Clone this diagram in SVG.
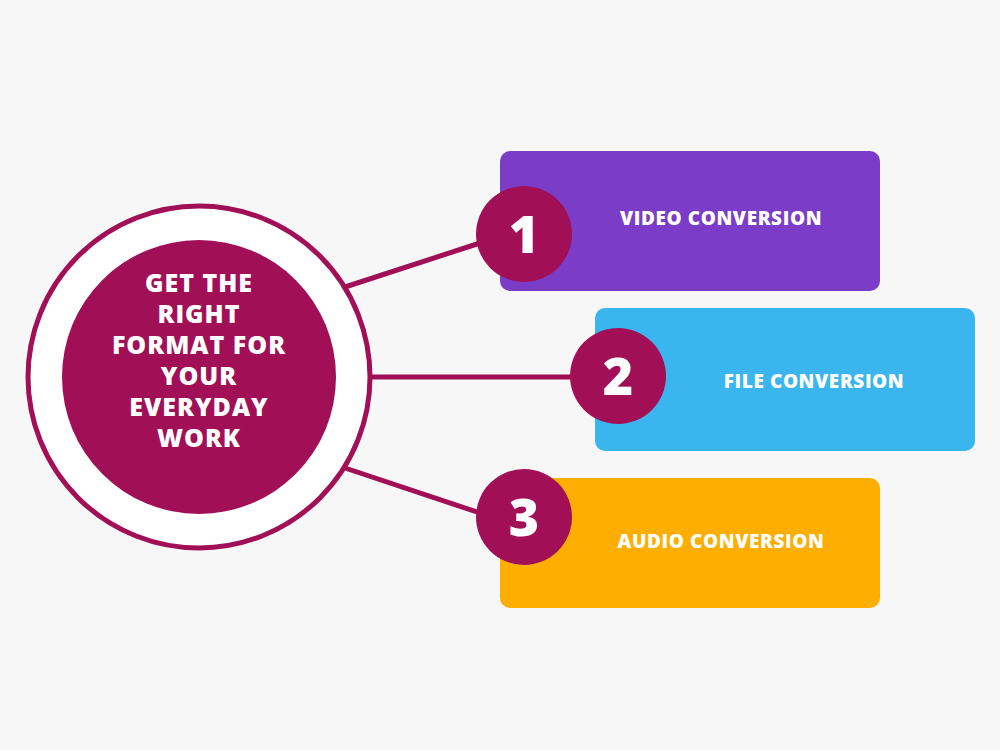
<svg xmlns="http://www.w3.org/2000/svg" width="1000" height="750" viewBox="0 0 1000 750">
<style>
.num{font-family:"Open Sans","Liberation Sans",sans-serif;font-weight:800;font-size:52px;fill:#fff;text-anchor:middle}
.lbl{font-family:"Open Sans","Liberation Sans",sans-serif;font-weight:800;font-size:19px;letter-spacing:0.6px;fill:#fff;text-anchor:middle}
.ctr{font-family:"Open Sans","Liberation Sans",sans-serif;font-weight:800;font-size:25px;letter-spacing:1px;fill:#fff;text-anchor:middle}
.ball{fill:#a10f57}
</style>
<rect width="1000" height="750" fill="#f7f7f7"/>
<g id="connectors" stroke="#a10f57" stroke-width="5">
<line x1="345" y1="287" x2="480" y2="243"/>
<line x1="372" y1="377" x2="575" y2="377"/>
<line x1="345" y1="468" x2="480" y2="513"/>
</g>
<g id="center">
<circle cx="199" cy="377" r="171" fill="#fff" stroke="#a10f57" stroke-width="5"/>
<circle cx="199" cy="377" r="137" class="ball"/>
<text class="ctr" x="199" y="292">GET THE</text>
<text class="ctr" x="199" y="323">RIGHT</text>
<text class="ctr" x="199" y="354">FORMAT FOR</text>
<text class="ctr" x="199" y="385">YOUR</text>
<text class="ctr" x="199" y="416">EVERYDAY</text>
<text class="ctr" x="199" y="447">WORK</text>
</g>
<g id="n1">
<rect x="500" y="151" width="380" height="140" rx="10" fill="#7b3dc8"/>
<circle cx="524" cy="234" r="48" class="ball"/>
<text class="num" x="524" y="253">1</text>
<text class="lbl" x="721" y="225">VIDEO CONVERSION</text>
</g>
<g id="n2">
<rect x="595" y="308" width="380" height="143" rx="10" fill="#3bb5ee"/>
<circle cx="618" cy="376" r="48" class="ball"/>
<text class="num" x="618" y="395">2</text>
<text class="lbl" x="814" y="388">FILE CONVERSION</text>
</g>
<g id="n3">
<rect x="500" y="478" width="380" height="130" rx="10" fill="#feae00"/>
<circle cx="524" cy="517" r="48" class="ball"/>
<text class="num" x="524" y="536">3</text>
<text class="lbl" x="721" y="548">AUDIO CONVERSION</text>
</g>
</svg>
